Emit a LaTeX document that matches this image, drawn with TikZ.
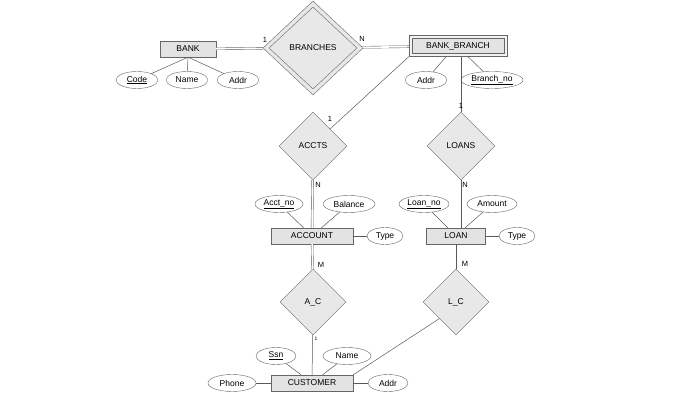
\documentclass[tikz,border=0pt]{standalone}
\usepackage{fontspec}
\setmainfont{Liberation Sans}
\usetikzlibrary{shapes.geometric}
\begin{document}
\begin{tikzpicture}[x=1pt,y=-1pt,font=\fontsize{8.5}{9}\selectfont,
 ent/.style={draw=gray!80!black,fill=gray!22,minimum height=16pt,inner sep=1pt},
 att/.style={draw=gray!80!black,ellipse,minimum height=17pt,minimum width=42pt,inner sep=0pt},
 rel/.style={draw=gray!80!black,fill=gray!18,diamond,minimum width=68pt,minimum height=68pt,inner sep=0pt},
 ln/.style={draw=gray!70!black,line width=0.5pt},
 dbl/.style={draw=gray!70!black,double,double distance=1.6pt,line width=0.4pt},
 lab/.style={font=\fontsize{7.5}{8}\selectfont}]
\useasboundingbox (0,0) rectangle (700,411);
\node[ent,minimum width=56pt] (bank) at (188,49) {BANK};
\node[rel,minimum width=100pt,minimum height=94pt] (br) at (313,48) {};
\node[rel,minimum width=88pt,minimum height=82pt] (bri) at (313,48) {BRANCHES};
\node[draw=gray!80!black,fill=gray!10,minimum width=98pt,minimum height=21pt,inner sep=0pt] (bb) at (458,46) {};
\node[ent,minimum width=92pt,minimum height=15pt] (bbi) at (458,46) {BANK\_BRANCH};
\node[att] (code) at (137,80) {\underline{Code}};
\node[att] (bname) at (187,80) {Name};
\node[att] (baddr) at (238,80) {Addr};
\node[att] (bbaddr) at (426,80) {Addr};
\node[att,minimum width=62pt] (bno) at (492,80) {\underline{Branch\_no}};
\node[rel] (accts) at (313,146) {ACCTS};
\node[rel] (loans) at (461,146) {LOANS};
\node[ent,minimum width=82pt] (acc) at (312,236) {ACCOUNT};
\node[ent,minimum width=59pt] (loan) at (456,236) {LOAN};
\node[att,minimum width=48pt] (ano) at (279,204) {\underline{Acct\_no}};
\node[att,minimum width=52pt] (bal) at (349,204) {Balance};
\node[att,minimum width=50pt] (lno) at (424,204) {\underline{Loan\_no}};
\node[att,minimum width=50pt] (amt) at (492,204) {Amount};
\node[att,minimum width=36pt] (at) at (385,236) {Type};
\node[att,minimum width=36pt] (lt) at (517,236) {Type};
\node[rel,minimum width=66pt,minimum height=66pt] (ac) at (313,302) {A\_C};
\node[rel,minimum width=66pt,minimum height=66pt] (lc) at (456,302) {L\_C};
\node[ent,minimum width=82pt] (cust) at (312,383) {CUSTOMER};
\node[att,minimum width=40pt] (ssn) at (276,356) {\underline{Ssn}};
\node[att,minimum width=48pt] (cname) at (347,356) {Name};
\node[att,minimum width=48pt] (phone) at (232,383) {Phone};
\node[att,minimum width=40pt] (caddr) at (388,383) {Addr};
\draw[dbl] (bank) -- (br);
\draw[dbl] (br) -- (bb);
\foreach \a in {code,bname,baddr} \draw[ln] (bank.south) -- (\a);
\draw[ln] (bb.south) ++(-12,0) -- (bbaddr);
\draw[ln] (bb.south) ++(10,0) -- (bno);
\draw[ln] (bb.south west) -- (accts.north east);
\draw[ln] (loans.north) -- (loans.north |- bb.south);
\draw[dbl] (accts) -- (acc);
\draw[ln] (loans.south) -- (loans.south |- loan.north);
\draw[ln] (acc) -- (ano); \draw[ln] (acc) -- (bal); \draw[ln] (acc) -- (at);
\draw[ln] (loan) -- (lno); \draw[ln] (loan) -- (amt); \draw[ln] (loan) -- (lt);
\draw[dbl] (acc) -- (ac);
\draw[ln] (loan) -- (lc);
\draw[ln] (ac) -- (cust);
\draw[ln] (cust.north east) -- (lc.south west);
\draw[ln] (cust) -- (ssn); \draw[ln] (cust) -- (cname); \draw[ln] (cust) -- (phone); \draw[ln] (cust) -- (caddr);
\node[lab] (l1) at (265,40) {1};
\node[lab] (l2) at (362,39) {N};
\node[lab] (l3) at (330,119) {1};
\node[lab] (l4) at (461,106) {1};
\node[lab] (l5) at (318,185) {N};
\node[lab] (l6) at (465,185) {N};
\node[lab] (l7) at (321,265) {M};
\node[lab] (l8) at (465,264) {M};
\node[lab,font=\fontsize{5}{6}\selectfont] (l9) at (316,339) {1};
\end{tikzpicture}
\end{document}
